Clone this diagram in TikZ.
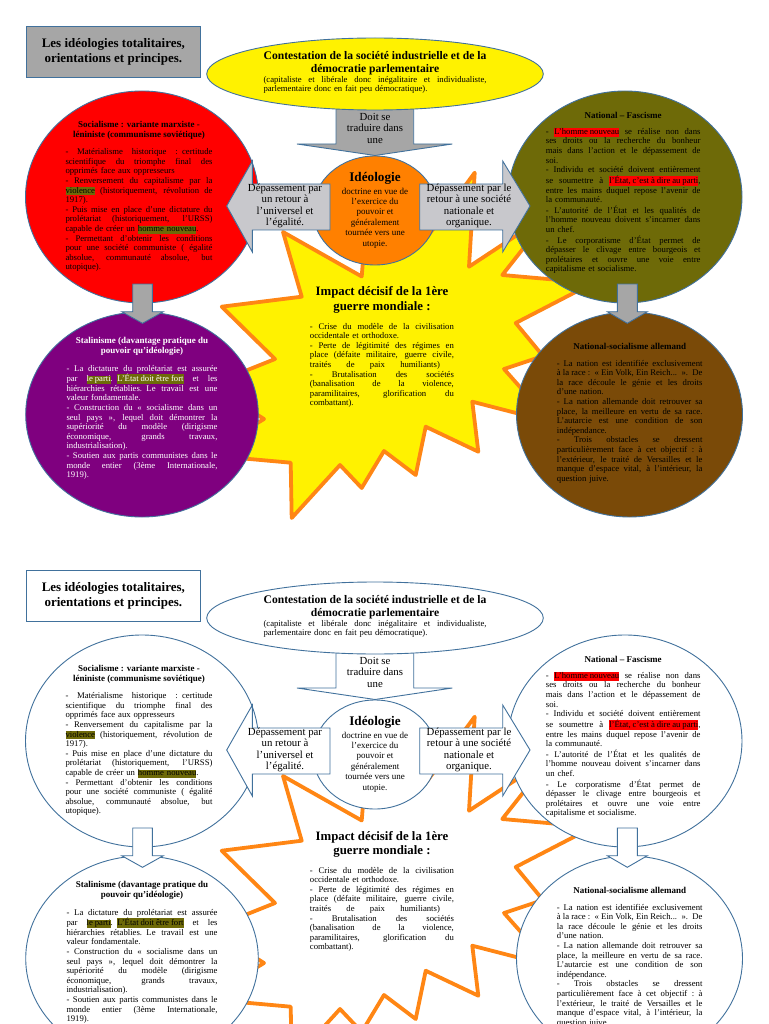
\documentclass[tikz,border=0pt]{standalone}
\usepackage{fontspec}
\setmainfont{Liberation Serif}
\usepackage{xcolor}
\usepackage{tikz}
\usetikzlibrary{shapes}
\definecolor{edgeblue}{HTML}{41719C}
\definecolor{startrim}{HTML}{FF8614}
\definecolor{midgray}{HTML}{A6A6A6}
\definecolor{sidegray}{HTML}{C8C8CC}
\definecolor{idea}{HTML}{FF8000}
\definecolor{fasc}{HTML}{6E6A08}
\definecolor{stal}{HTML}{7F007F}
\definecolor{nazi}{HTML}{7A4A08}
\newcommand{\jl}[1]{\hbox to \hsize{\spaceskip=.22em plus 1fil\relax\rule[-2.2pt]{0pt}{7.4pt}#1}}
\newcommand{\el}[1]{\hbox{\rule[-2.2pt]{0pt}{7.4pt}#1}}
\newcommand{\hl}[2]{{\fboxsep=0pt\colorbox{#1}{\rule[-2.2pt]{0pt}{7.4pt}#2}}}
\tikzstyle{outline}+=[draw=edgeblue,line width=.9pt]
\tikzstyle{disc}+=[outline,ellipse,inner sep=0pt,outer sep=0pt]
\tikzstyle{burst}+=[draw=startrim,line width=3.8pt,line join=round]
\tikzstyle{bodytext}+=[anchor=north west,inner sep=0pt,font=\fontsize{8.7}{9.6}\selectfont]
\tikzstyle{headtext}+=[align=center,inner sep=0pt,font=\fontsize{9}{10.2}\selectfont\bfseries]
\tikzstyle{sidetext}+=[align=center,inner sep=0pt,font=\fontsize{10.8}{11.3}\selectfont]
\begin{document}
\begin{tikzpicture}[x=1pt,y=-1pt]
    \clip[use as bounding box] (0,0) rectangle (768,1024);
    \foreach \dy/\ftitle/\fcontest/\fstar/\fidea/\fdoit/\fside/\fsocial/\ffasc/\fstal/\fnazi/\tstal in {
        0/midgray/yellow/yellow/idea/midgray/sidegray/red/fasc/stal/nazi/white,
        544/white/white/white/white/white/white/white/white/white/white/black} {
    \begin{scope}[shift={(0,\dy)}]
    \filldraw[burst,fill=\fstar] (283,232) -- (361.7,276.5) -- (370,175) -- (425,240) -- (474.7,172.7)
        -- (469,266.7) -- (552,212) -- (502.3,275) -- (593,283) -- (515.7,323) -- (543,356)
        -- (504,369) -- (551,422) -- (472.3,401.7) -- (478.3,451.7) -- (425.7,426.7) -- (415.7,475)
        -- (384,451) -- (361.7,488) -- (340,465) -- (291.7,518) -- (290.7,462.7) -- (205,455)
        -- (264,419) -- (210,385) -- (275,359) -- (221.7,306.7) -- (301.7,296.7) -- cycle;
    \node[outline,fill=\ftitle,minimum width=174.5pt,minimum height=51pt,inner sep=0pt,
        align=center,font=\fontsize{13}{15}\selectfont\bfseries] (title) at (113.3,51.6)
        {Les idéologies totalitaires,\\orientations et principes.};
    \filldraw[outline,fill=\fdoit] (336,108) -- (413.7,108) -- (413.7,144) -- (452.3,144) -- (375,155.5)
        -- (297,144) -- (336,144) -- cycle;
    \node[disc,fill=\fcontest,minimum width=336.6pt,minimum height=72pt] (contest) at (375,74) {};
    \node[headtext,font=\fontsize{11.6}{13.2}\selectfont\bfseries] (contesthead) at (375,63.5)
        {Contestation de la société industrielle et de la\\démocratie parlementaire};
    \node[bodytext,text width=223pt] (contestbody) at (263.3,76)
        {\jl{(capitaliste et libérale donc inégalitaire et individualiste,}
        \el{parlementaire donc en fait peu démocratique).}};
    \node[sidetext] (doit) at (375,128.2) {Doit se\\traduire dans\\une};
    \node[disc,fill=\fidea,minimum width=124pt,minimum height=109pt] (ideo) at (375,210.5) {};
    \node[headtext,font=\fontsize{13.2}{15}\selectfont\bfseries] (ideohead) at (375,178.5) {Idéologie};
    \node[align=center,inner sep=0pt,font=\fontsize{9}{10.4}\selectfont] (ideobody) at (375,218)
        {doctrine en vue de\\l’exercice du\\pouvoir et\\généralement\\tournée vers une\\utopie.};
    \node[disc,fill=\fsocial,minimum width=233pt,minimum height=212pt] (social) at (142,197) {};
    \node[disc,fill=\ffasc,minimum width=234pt,minimum height=212pt] (fascism) at (625,197) {};
    \node[disc,fill=\fstal,minimum width=232.6pt,minimum height=205pt] (stalin) at (142,414.5) {};
    \node[disc,fill=\fnazi,minimum width=226pt,minimum height=205pt] (nazism) at (629.5,414.5) {};
    \filldraw[outline,fill=\fside] (330,184) -- (252.3,184) -- (252.3,161) -- (226.7,206) -- (252.3,252)
        -- (252.3,230) -- (330,230) -- cycle;
    \filldraw[outline,fill=\fside] (419.7,184) -- (502.7,184) -- (502.7,161) -- (530,206) -- (502.7,252)
        -- (502.7,230) -- (419.7,230) -- cycle;
    \filldraw[outline,fill=\fdoit] (132.7,284) -- (152.3,284) -- (152.3,311.7) -- (163.3,311.7) -- (142.5,323.3)
        -- (121.7,311.7) -- (132.7,311.7) -- cycle;
    \filldraw[outline,fill=\fdoit] (617.3,284) -- (637.3,284) -- (637.3,311.7) -- (647.3,311.7) -- (627.3,323.3)
        -- (607.3,311.7) -- (617.3,311.7) -- cycle;
    \node[sidetext] (left) at (285,206) {Dépassement par\\un retour à\\l’universel et\\l’égalité.};
    \node[sidetext] (right) at (469,206) {Dépassement par le\\retour à une société\\nationale et\\organique.};
    \node[headtext] (socialhead) at (139,130.5) {Socialisme : variante marxiste -\\léniniste (communisme soviétique)};
    \node[bodytext,text width=147pt] (socialbody) at (65.3,148.5)
        {\jl{- Matérialisme historique : certitude}
        \jl{scientifique du triomphe final des}
        \el{opprimés face aux oppresseurs}
        \jl{- Renversement du capitalisme par la}
        \jl{\hl{fasc}{violence} (historiquement, révolution de}
        \el{1917).}
        \jl{- Puis mise en place d’une dictature du}
        \jl{prolétariat (historiquement, l’URSS)}
        \el{capable de créer un \hl{fasc}{homme nouveau}.}
        \jl{- Permettant d’obtenir les conditions}
        \jl{pour une société communiste ( égalité}
        \jl{absolue, communauté absolue, but}
        \el{utopique).}};
    \node[headtext] (fascismhead) at (623,115) {National – Fascisme};
    \node[bodytext,text width=154.6pt] (fascismbody) at (545.7,128.1)
        {\jl{- \hl{red}{L’homme nouveau} se réalise non dans}
        \jl{ses droits ou la recherche du bonheur}
        \jl{mais dans l’action et le dépassement de}
        \el{soi.}
        \jl{- Individu et société doivent entièrement}
        \jl{se soumettre à \hl{red}{l’État, c’est à dire au parti},}
        \jl{entre les mains duquel repose l’avenir de}
        \el{la communauté.}
        \jl{- L’autorité de l’État et les qualités de}
        \jl{l’homme nouveau doivent s’incarner dans}
        \el{un chef.}
        \jl{- Le corporatisme d’État permet de}
        \jl{dépasser le clivage entre bourgeois et}
        \jl{prolétaires et ouvre une voie entre}
        \el{capitalisme et socialisme.}};
    \node[headtext,text=\tstal] (stalinhead) at (142,346) {Stalinisme (davantage pratique du\\pouvoir qu’idéologie)};
    \node[bodytext,text width=151pt,text=\tstal] (stalinbody) at (66.3,364.8)
        {\jl{- La dictature du prolétariat est assurée}
        \jl{par \hl{fasc}{le parti}. \hl{fasc}{L’État doit être fort} et les}
        \jl{hiérarchies rétablies. Le travail est une}
        \el{valeur fondamentale.}
        \jl{- Construction du « socialisme dans un}
        \jl{seul pays », lequel doit démontrer la}
        \jl{supériorité du modèle (dirigisme}
        \jl{économique, grands travaux,}
        \el{industrialisation).}
        \jl{- Soutien aux partis communistes dans le}
        \jl{monde entier (3ème Internationale,}
        \el{1919).}};
    \node[headtext] (nazismhead) at (629.7,346) {National-socialisme allemand};
    \node[bodytext,text width=145.6pt] (nazismbody) at (556.7,359.8)
        {\jl{- La nation est identifiée exclusivement}
        \jl{à la race : « Ein Volk, Ein Reich... ». De}
        \jl{la race découle le génie et les droits}
        \el{d’une nation.}
        \jl{- La nation allemande doit retrouver sa}
        \jl{place, la meilleure en vertu de sa race.}
        \jl{L’autarcie est une condition de son}
        \el{indépendance.}
        \jl{- Trois obstacles se dressent}
        \jl{particulièrement face à cet objectif : à}
        \jl{l’extérieur, le traité de Versailles et le}
        \jl{manque d’espace vital, à l’intérieur, la}
        \el{question juive.}};
    \node[headtext,font=\fontsize{12.8}{14.2}\selectfont\bfseries] (impacthead) at (382,300)
        {Impact décisif de la 1ère\\guerre mondiale :};
    \node[bodytext,text width=144pt] (impactbody) at (309.7,322.8)
        {\jl{- Crise du modèle de la civilisation}
        \el{occidentale et orthodoxe.}
        \jl{- Perte de légitimité des régimes en}
        \jl{place (défaite militaire, guerre civile,}
        \hbox to 130pt{\spaceskip=.22em plus 1fil\relax\rule[-2.2pt]{0pt}{7.4pt}traités de paix humiliants)}
        \jl{- Brutalisation des sociétés}
        \jl{(banalisation de la violence,}
        \jl{paramilitaires, glorification du}
        \el{combattant).}};
    \end{scope}
    }
\end{tikzpicture}
\end{document}
